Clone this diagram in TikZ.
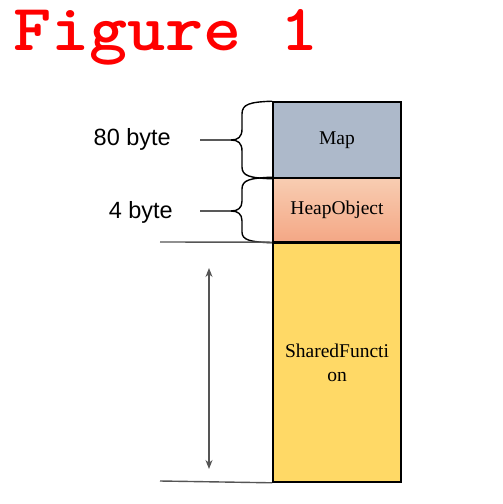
\documentclass[tikz,border=0pt]{standalone}
\usepackage{fontspec}
\usepackage{graphicx}
\setmainfont{Liberation Serif}
\newfontfamily\bytefont{Liberation Sans}
\usetikzlibrary{arrows.meta}
\definecolor{mapblue}{HTML}{ADB9CA}
\definecolor{heaptop}{HTML}{F8CDB2}
\definecolor{heapbot}{HTML}{F4A785}
\definecolor{sharedyellow}{HTML}{FFD966}
\definecolor{guidegray}{HTML}{555555}
\begin{document}
\begin{tikzpicture}[x=1pt,y=-1pt]

      \tikzset{field/.style={draw, line width=1.6pt, minimum width=128pt, inner sep=0pt, font=\fontsize{19.5}{24}\selectfont, align=center},
               bytelabel/.style={anchor=east, inner sep=0pt, font=\bytefont\fontsize{23.5}{24}\selectfont},
               curly/.style={draw, line width=1.4pt},
               guide/.style={draw=guidegray, line width=1.4pt}}
      \useasboundingbox (0,0) rectangle (503,504);
% Title
      	\node[anchor=base west, inner sep=0pt, text height=40pt, text depth=13pt, text=red, font=\ttfamily\bfseries\fontsize{66}{66}\selectfont] (title) at (13,50) {\scalebox{1.1}[1]{Figure 1}};
% Fields
      	\node[field, fill=mapblue, minimum height=76pt] (map) at (337,140) {Map};
      	\node[field, top color=heaptop, bottom color=heapbot, draw, minimum height=64pt] (heap) at (337,210) {HeapObject};
    	\node[field, fill=sharedyellow, minimum height=239pt] (shared) at (337,362.5) {SharedFuncti\\on};
% Labels
  	    \node[bytelabel] (mapsize) at (171,139) {80 byte};
  	    \node[bytelabel] (heapsize) at (173,212) {4 byte};
	%Ends
		\coordinate (mapend) at (200,140);
		\coordinate (heapend) at (200,211);
		\coordinate (topend) at (160,242);
		\coordinate (bottomend) at (160,481);
		\coordinate (spantop) at (209,268);
		\coordinate (spanbottom) at (209,469);
% Braces
		\path[curly] (map.north west) .. controls (250,102) and (242,104) .. (242,114) -- (242,129)
		     .. controls (242,137) and (238,140) .. (231,140) -- (mapend);
		\path[curly] (231,140) .. controls (238,140) and (242,143) .. (242,151) -- (242,167)
		     .. controls (242,176) and (250,178) .. (map.south west);
		\path[curly] (heap.north west) .. controls (250,178) and (242,180) .. (242,189) -- (242,201)
		     .. controls (242,208) and (238,211) .. (231,211) -- (heapend);
		\path[curly] (231,211) .. controls (238,211) and (242,214) .. (242,221) -- (242,232)
		     .. controls (242,240) and (250,242) .. (heap.south west);
% Size of SharedFunction
		\path[guide] (shared.north west) -- (topend);
		\path[guide] (shared.south west) -- (bottomend);
		\path[draw=guidegray, line width=1.2pt, {Stealth[length=9pt,width=7pt]}-{Stealth[length=9pt,width=7pt]}] (spantop) -- (spanbottom);

	\end{tikzpicture}
\end{document}
